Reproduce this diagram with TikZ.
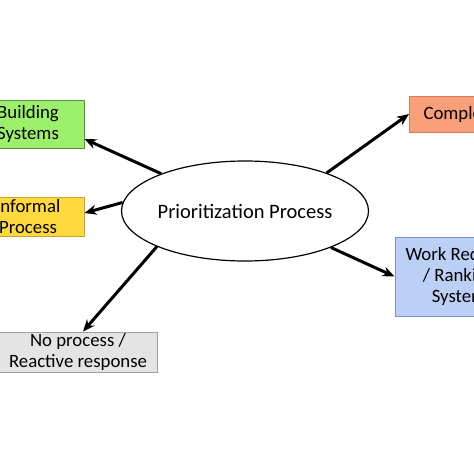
\documentclass[tikz,border=0pt]{standalone}
\usepackage{fontspec}
\setmainfont{Carlito}
\usetikzlibrary{shapes.geometric,arrows.meta}
\definecolor{grfill}{HTML}{9CF06C}\definecolor{grline}{HTML}{5E8F40}
\definecolor{yefill}{HTML}{FFD93D}\definecolor{yeline}{HTML}{C9A52C}
\definecolor{orfill}{HTML}{F9A07A}\definecolor{orline}{HTML}{D07E5E}
\definecolor{blfill}{HTML}{BCD0F6}\definecolor{blline}{HTML}{7D8FC0}
\definecolor{gyfill}{HTML}{E4E4E4}\definecolor{gyline}{HTML}{9E9E9E}
\tikzset{
  box/.style={rectangle,line width=1pt,align=center,inner sep=0pt,
    font=\fontsize{18.8}{21}\selectfont},
  arr/.style={line width=3pt,-{Stealth[length=12pt,width=10pt]}}
}
\begin{document}
\begin{tikzpicture}[x=1pt,y=-1pt]
  \useasboundingbox (0,0) rectangle (474,474);
  \clip (0,0) rectangle (474,474);
  \node[ellipse,draw,line width=1.2pt,minimum width=246pt,minimum height=100pt,inner sep=0pt,
    font=\fontsize{20.5}{24}\selectfont] (pp) at (245,211) {Prioritization Process};
  \node[box,fill=grfill,draw=grline,minimum width=112pt,minimum height=48pt] (bs) at (28,124) {Building\\Systems};
  \node[box,fill=yefill,draw=yeline,minimum width=112pt,minimum height=39pt] (ip) at (28,216.5) {Informal\\Process};
  \node[box,fill=gyfill,draw=gyline,minimum width=158pt,minimum height=40pt] (np) at (78,352) {No process /\\Reactive response};
  \node[box,fill=orfill,draw=orline,minimum height=36pt,inner xsep=14pt,anchor=west] (cr) at (409,114) {Complete};
  \node[box,fill=blfill,draw=blline,minimum width=128pt,minimum height=79pt] (wr) at (459,276.5) {Work Request\\/ Ranking\\System};
  \draw[arr] (pp.156) -- ([yshift=-15pt]bs.east); \draw[arr] (pp.176) -- ([yshift=3.5pt]ip.east);
  \draw[arr] (pp.202) -- ([xshift=5pt]np.north); \draw[arr] (pp.25) -- (cr.west);
  \draw[arr] (pp.337) -- (wr.west);
\end{tikzpicture}
\end{document}
